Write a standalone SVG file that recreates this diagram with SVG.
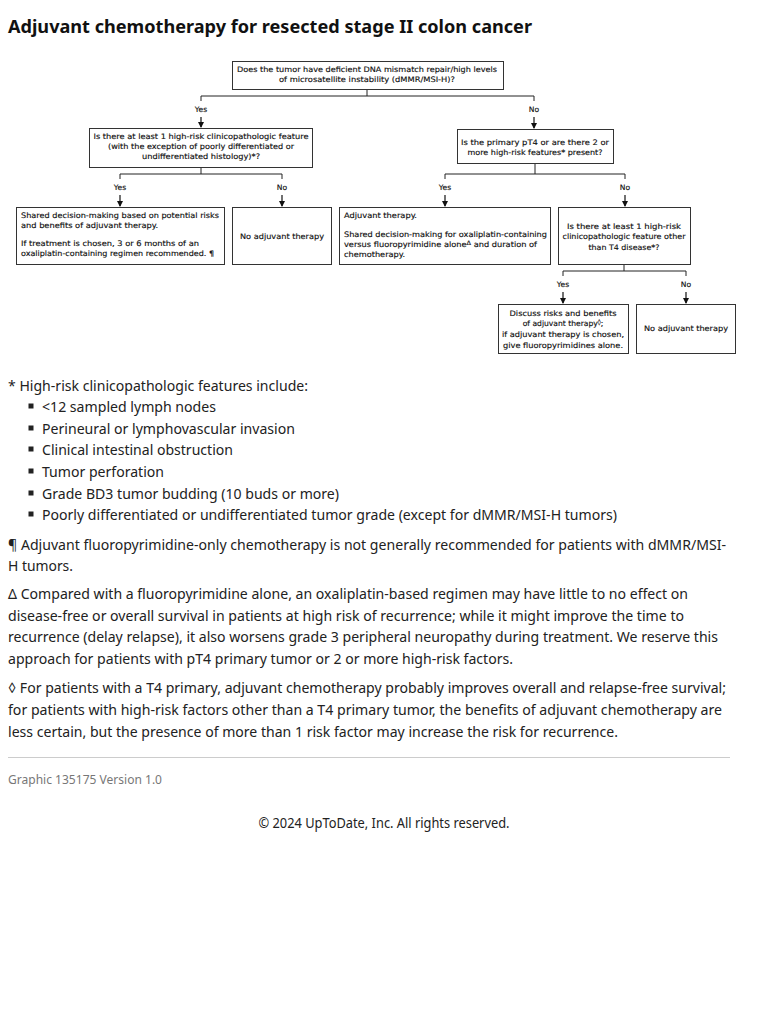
<svg xmlns="http://www.w3.org/2000/svg" width="768" height="1024" viewBox="0 0 768 1024">
<defs>
<marker id="ah" markerWidth="6" markerHeight="6" refX="5" refY="3" orient="auto" markerUnits="userSpaceOnUse"><path d="M0,0 L6,3 L0,6 Z" fill="#111"/></marker>
<style>
.box{fill:#fff;stroke:#333;stroke-width:1}
.ft{font-family:"DejaVu Sans",Verdana,sans-serif;font-size:7.6px;fill:#111;stroke:#111;stroke-width:0.15}
.c{text-anchor:middle}
.ln{stroke:#222;stroke-width:1;fill:none}
.ar{stroke:#111;stroke-width:1.2;fill:none;marker-end:url(#ah)}
.lbl{font-family:"DejaVu Sans",Verdana,sans-serif;font-size:7.6px;fill:#111;stroke:#111;stroke-width:0.15;text-anchor:middle}
.body{font-family:"Noto Sans","Open Sans",sans-serif;font-size:14.5px;fill:#222}
</style>
</defs>
<rect width="768" height="1024" fill="#fff"/>
<text x="8" y="33" font-family="Noto Sans,Open Sans,sans-serif" font-weight="bold" font-size="18" fill="#111" textLength="524" lengthAdjust="spacingAndGlyphs">Adjuvant chemotherapy for resected stage II colon cancer</text>

<g id="connectors">
<path class="ln" d="M367,89V96M201,101V96H534V101"/>
<text class="lbl" x="201" y="112">Yes</text>
<text class="lbl" x="534" y="112">No</text>
<path class="ar" d="M201,117V127"/>
<path class="ar" d="M534,117V128"/>
<path class="ln" d="M201,167V174M120,179V174H282V179"/>
<text class="lbl" x="120" y="190">Yes</text>
<text class="lbl" x="282" y="190">No</text>
<path class="ar" d="M120,195V206"/>
<path class="ar" d="M282,195V206"/>
<path class="ln" d="M535,163V174M445,179V174H625V179"/>
<text class="lbl" x="445" y="190">Yes</text>
<text class="lbl" x="625" y="190">No</text>
<path class="ar" d="M445,195V206"/>
<path class="ar" d="M625,195V206"/>
<path class="ln" d="M624,264V271M563,276V271H686V276"/>
<text class="lbl" x="563" y="287">Yes</text>
<text class="lbl" x="686" y="287">No</text>
<path class="ar" d="M563,292V303"/>
<path class="ar" d="M686,292V303"/>
</g>

<g id="n1">
<rect class="box" x="232.5" y="61.5" width="271" height="28"/>
<text class="ft c" x="367" y="72" textLength="260" lengthAdjust="spacingAndGlyphs">Does the tumor have deficient DNA mismatch repair/high levels</text>
<text class="ft c" x="367" y="82" textLength="176" lengthAdjust="spacingAndGlyphs">of microsatellite instability (dMMR/MSI-H)?</text>
</g>
<g id="n2">
<rect class="box" x="89.5" y="128.5" width="223" height="39"/>
<text class="ft c" x="201" y="139" textLength="215" lengthAdjust="spacingAndGlyphs">Is there at least 1 high-risk clinicopathologic feature</text>
<text class="ft c" x="201" y="149" textLength="186" lengthAdjust="spacingAndGlyphs">(with the exception of poorly differentiated or</text>
<text class="ft c" x="201" y="159" textLength="118" lengthAdjust="spacingAndGlyphs">undifferentiated histology)*?</text>
</g>
<g id="n3">
<rect class="box" x="457.5" y="129.5" width="156" height="34"/>
<text class="ft c" x="535" y="145" textLength="148" lengthAdjust="spacingAndGlyphs">Is the primary pT4 or are there 2 or</text>
<text class="ft c" x="535" y="155" textLength="135" lengthAdjust="spacingAndGlyphs">more high-risk features* present?</text>
</g>
<g id="n4">
<rect class="box" x="16.5" y="207.5" width="208" height="57"/>
<text class="ft" x="21" y="218" textLength="198" lengthAdjust="spacingAndGlyphs">Shared decision-making based on potential risks</text>
<text class="ft" x="21" y="228" textLength="137" lengthAdjust="spacingAndGlyphs">and benefits of adjuvant therapy.</text>
<text class="ft" x="21" y="246" textLength="178" lengthAdjust="spacingAndGlyphs">If treatment is chosen, 3 or 6 months of an</text>
<text class="ft" x="21" y="256" textLength="193" lengthAdjust="spacingAndGlyphs">oxaliplatin-containing regimen recommended. ¶</text>
</g>
<g id="n5">
<rect class="box" x="232.5" y="207.5" width="99" height="57"/>
<text class="ft c" x="282" y="239" textLength="84" lengthAdjust="spacingAndGlyphs">No adjuvant therapy</text>
</g>
<g id="n6">
<rect class="box" x="339.5" y="207.5" width="211" height="57"/>
<text class="ft" x="344" y="218" textLength="73" lengthAdjust="spacingAndGlyphs">Adjuvant therapy.</text>
<text class="ft" x="344" y="237" textLength="203" lengthAdjust="spacingAndGlyphs">Shared decision-making for oxaliplatin-containing</text>
<text class="ft" x="344" y="247" textLength="193" lengthAdjust="spacingAndGlyphs">versus fluoropyrimidine alone<tspan font-size="6" dy="-2">Δ</tspan><tspan dy="2"> and duration of</tspan></text>
<text class="ft" x="344" y="257" textLength="61" lengthAdjust="spacingAndGlyphs">chemotherapy.</text>
</g>
<g id="n7">
<rect class="box" x="558.5" y="207.5" width="132" height="57"/>
<text class="ft c" x="624" y="229" textLength="114" lengthAdjust="spacingAndGlyphs">Is there at least 1 high-risk</text>
<text class="ft c" x="624" y="239" textLength="123" lengthAdjust="spacingAndGlyphs">clinicopathologic feature other</text>
<text class="ft c" x="624" y="250" textLength="71" lengthAdjust="spacingAndGlyphs">than T4 disease*?</text>
</g>
<g id="n8">
<rect class="box" x="498.5" y="304.5" width="130" height="49"/>
<text class="ft c" x="563" y="316" textLength="107" lengthAdjust="spacingAndGlyphs">Discuss risks and benefits</text>
<text class="ft c" x="563" y="326">of adjuvant therapy<tspan font-size="6" dy="-2">◊</tspan><tspan dy="2">;</tspan></text>
<text class="ft c" x="563" y="337" textLength="122" lengthAdjust="spacingAndGlyphs">if adjuvant therapy is chosen,</text>
<text class="ft c" x="563" y="348" textLength="120" lengthAdjust="spacingAndGlyphs">give fluoropyrimidines alone.</text>
</g>
<g id="n9">
<rect class="box" x="636.5" y="304.5" width="99" height="49"/>
<text class="ft c" x="686" y="331" textLength="84" lengthAdjust="spacingAndGlyphs">No adjuvant therapy</text>
</g>

<g id="notes">
<text class="body" x="8" y="391" textLength="300" lengthAdjust="spacingAndGlyphs">* High-risk clinicopathologic features include:</text>
<g fill="#222">
<rect x="28.5" y="403.5" width="5" height="5"/>
<rect x="28.5" y="425.5" width="5" height="5"/>
<rect x="28.5" y="446.5" width="5" height="5"/>
<rect x="28.5" y="468.5" width="5" height="5"/>
<rect x="28.5" y="490.5" width="5" height="5"/>
<rect x="28.5" y="511.5" width="5" height="5"/>
</g>
<text class="body" x="42" y="412" textLength="174" lengthAdjust="spacingAndGlyphs">&lt;12 sampled lymph nodes</text>
<text class="body" x="42" y="434" textLength="253" lengthAdjust="spacingAndGlyphs">Perineural or lymphovascular invasion</text>
<text class="body" x="42" y="455" textLength="191" lengthAdjust="spacingAndGlyphs">Clinical intestinal obstruction</text>
<text class="body" x="42" y="477" textLength="122" lengthAdjust="spacingAndGlyphs">Tumor perforation</text>
<text class="body" x="42" y="499" textLength="297" lengthAdjust="spacingAndGlyphs">Grade BD3 tumor budding (10 buds or more)</text>
<text class="body" x="42" y="520" textLength="575" lengthAdjust="spacingAndGlyphs">Poorly differentiated or undifferentiated tumor grade (except for dMMR/MSI-H tumors)</text>

<text class="body" x="8" y="550" textLength="718" lengthAdjust="spacingAndGlyphs">¶ Adjuvant fluoropyrimidine-only chemotherapy is not generally recommended for patients with dMMR/MSI-</text>
<text class="body" x="8" y="571" textLength="65" lengthAdjust="spacingAndGlyphs">H tumors.</text>

<text class="body" x="8" y="599" textLength="680" lengthAdjust="spacingAndGlyphs">Δ Compared with a fluoropyrimidine alone, an oxaliplatin-based regimen may have little to no effect on</text>
<text class="body" x="8" y="621" textLength="676" lengthAdjust="spacingAndGlyphs">disease-free or overall survival in patients at high risk of recurrence; while it might improve the time to</text>
<text class="body" x="8" y="642" textLength="710" lengthAdjust="spacingAndGlyphs">recurrence (delay relapse), it also worsens grade 3 peripheral neuropathy during treatment. We reserve this</text>
<text class="body" x="8" y="664" textLength="505" lengthAdjust="spacingAndGlyphs">approach for patients with pT4 primary tumor or 2 or more high-risk factors.</text>

<text class="body" x="8" y="693" textLength="718" lengthAdjust="spacingAndGlyphs">◊ For patients with a T4 primary, adjuvant chemotherapy probably improves overall and relapse-free survival;</text>
<text class="body" x="8" y="715" textLength="714" lengthAdjust="spacingAndGlyphs">for patients with high-risk factors other than a T4 primary tumor, the benefits of adjuvant chemotherapy are</text>
<text class="body" x="8" y="737" textLength="610" lengthAdjust="spacingAndGlyphs">less certain, but the presence of more than 1 risk factor may increase the risk for recurrence.</text>
</g>

<line x1="8" y1="757.5" x2="730" y2="757.5" stroke="#ccc" stroke-width="1"/>
<text x="8" y="784" font-family="Noto Sans,Open Sans,sans-serif" font-size="12.5" fill="#777" textLength="154" lengthAdjust="spacingAndGlyphs">Graphic 135175 Version 1.0</text>
<text x="384" y="828" text-anchor="middle" font-family="Noto Sans,Open Sans,sans-serif" font-size="14" fill="#222" textLength="251" lengthAdjust="spacingAndGlyphs">© 2024 UpToDate, Inc. All rights reserved.</text>
</svg>
